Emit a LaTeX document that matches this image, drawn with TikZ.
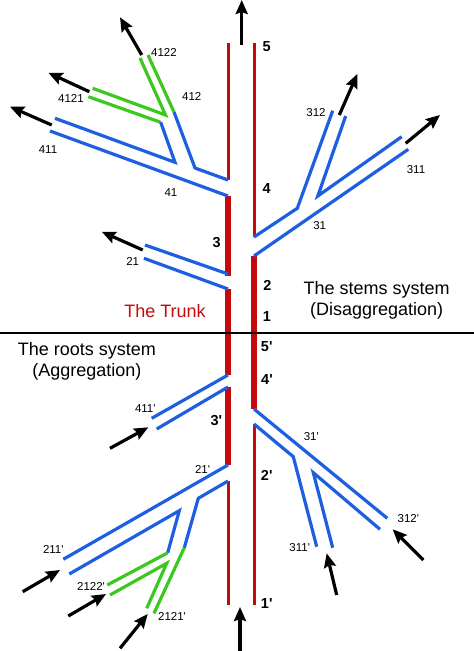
\documentclass[tikz,border=0pt]{standalone}
\usepackage{fontspec}
\setmainfont{Liberation Sans}
\usetikzlibrary{arrows.meta}
\definecolor{trunkred}{RGB}{196,10,10}
\definecolor{branchblue}{RGB}{30,95,225}
\definecolor{twiggreen}{RGB}{60,200,30}
\newcommand{\prm}{\textquotesingle}

\begin{document}
\begin{tikzpicture}[x=1pt,y=-1pt,
  stem/.style={trunkred,line width=3pt},
  stemthick/.style={trunkred,line width=6.5pt},
  branch/.style={branchblue,line width=3.2pt},
  twig/.style={twiggreen,line width=3.2pt},
  flow/.style={black,line width=3.2pt,-{Stealth[length=14pt,width=12pt,inset=2pt]}},
  lbl/.style={font=\fontsize{11.5}{12}\selectfont},
  num/.style={font=\fontsize{14.5}{15}\selectfont\bfseries},
  caption/.style={font=\fontsize{18}{21}\selectfont,align=center}]

  \useasboundingbox (0,0) rectangle (474,651);

  % the trunk
  \draw[stem] (228,43) -- (228,180);
  \draw[stemthick] (228,196) -- (228,276);
  \draw[stemthick] (228,289) -- (228,375);
  \draw[stemthick] (228,387) -- (228,465);
  \draw[stem] (228,481) -- (228,605);
  \draw[stem] (254,43) -- (254,237);
  \draw[stemthick] (254,256) -- (254,409);
  \draw[stem] (254,424) -- (254,605);

  % border between both systems
  \draw[black,line width=1.4pt] (0,333) -- (474,333);

  % stems: branch 41
  \draw[branch] (228,180) -- (195,168) -- (174,112);
  \draw[twig] (174,112) -- (148,55);
  \draw[twig] (140,58) -- (165.5,115) -- (92.7,88.3);
  \draw[twig] (88.3,96.7) -- (160.7,122.3);
  \draw[branch] (160.7,122.3) -- (175,162.3) -- (55,118.3);
  \draw[branch] (50,131) -- (228,196);

  % stems: branch 31
  \draw[branch] (254,237) -- (297.3,208.3) -- (332.7,110.7);
  \draw[branch] (345.7,116) -- (317.8,196) -- (401.7,136.7);
  \draw[branch] (408.3,149.3) -- (254,256);

  % stems: branch 21
  \draw[branch] (145,245) -- (228,274);
  \draw[branch] (144,258.3) -- (228,289);

  % roots: branch 411'
  \draw[branch] (228,375) -- (151.7,418.3);
  \draw[branch] (228,387) -- (156.7,429);

  % roots: branch 31'
  \draw[branch] (254,409) -- (387.3,518.3);
  \draw[branch] (254,424) -- (293.3,456.7) -- (316.7,546.7);
  \draw[branch] (380,529.3) -- (313.3,472.7) -- (332.7,547.7);

  % roots: branch 21'
  \draw[branch] (228,465) -- (63.3,559.3);
  \draw[branch] (228,481) -- (198.3,498.3) -- (184.3,547.7);
  \draw[twig] (184.3,547.7) -- (154,613.3);
  \draw[branch] (69.3,574) -- (179.3,510.7) -- (167.7,552.8);
  \draw[twig] (167.7,552.8) -- (107.3,585);
  \draw[twig] (110,595) -- (166.7,563.3) -- (146.7,608.3);

  % flows out of the stems
  \coordinate (t5) at (241.7,45);      \coordinate (h5) at (241.7,0);
  \coordinate (t411) at (51.7,125);    \coordinate (h411) at (10,106.7);
  \coordinate (t4121) at (89.3,91.7);  \coordinate (h4121) at (48.3,72.7);
  \coordinate (t4122) at (141.7,55);   \coordinate (h4122) at (120,17.3);
  \coordinate (t312) at (339.3,115);   \coordinate (h312) at (357.3,74);
  \coordinate (t311) at (405.7,143.3); \coordinate (h311) at (440,115);
  \coordinate (t21) at (142.7,250);    \coordinate (h21) at (101.7,231.7);
  \foreach \n in {5,411,4121,4122,312,311,21}
    \draw[flow] (t\n) -- (h\n);

  % flows into the roots
  \coordinate (t1r) at (240,651);       \coordinate (h1r) at (240,607);
  \coordinate (t411r) at (110,448.3);   \coordinate (h411r) at (148.3,427.3);
  \coordinate (t312r) at (423.3,560);   \coordinate (h312r) at (392.7,529.3);
  \coordinate (t311r) at (336.7,595);   \coordinate (h311r) at (326.7,553.3);
  \coordinate (t211r) at (22.7,591.7);  \coordinate (h211r) at (60,570);
  \coordinate (t2122r) at (68.3,616);   \coordinate (h2122r) at (106,594);
  \coordinate (t2121r) at (120,648.3);  \coordinate (h2121r) at (147.7,614);
  \foreach \n in {1r,411r,312r,311r,211r,2122r,2121r}
    \draw[flow] (t\n) -- (h\n);

  % trunk numbers
  \node[num] (n5) at (266.7,46.7) {5};
  \node[num] (n4) at (266.7,188.7) {4};
  \node[num] (n3) at (216.7,242.8) {3};
  \node[num] (n2) at (267.5,285) {2};
  \node[num] (n1) at (267,316.7) {1};
  \node[num] (n5r) at (266.7,346.7) {5\prm};
  \node[num] (n4r) at (267,380) {4\prm};
  \node[num] (n3r) at (216.3,420.5) {3\prm};
  \node[num] (n2r) at (266.7,475) {2\prm};
  \node[num] (n1r) at (266.7,603.3) {1\prm};

  % branch labels
  \node[lbl] (l4122) at (164,52.5) {4122};
  \node[lbl] (l4121) at (71,98) {4121};
  \node[lbl] (l412) at (191.7,96.7) {412};
  \node[lbl] (l411) at (48,150) {411};
  \node[lbl] (l41) at (171,193) {41};
  \node[lbl] (l312) at (316,112.8) {312};
  \node[lbl] (l311) at (416,169.5) {311};
  \node[lbl] (l31) at (319.7,225.7) {31};
  \node[lbl] (l21) at (132.7,261.3) {21};
  \node[lbl] (l411r) at (145.3,408.3) {411\prm};
  \node[lbl] (l31r) at (311.3,436.7) {31\prm};
  \node[lbl] (l312r) at (408.3,518.7) {312\prm};
  \node[lbl] (l311r) at (299.7,548) {311\prm};
  \node[lbl] (l21r) at (202.5,469.3) {21\prm};
  \node[lbl] (l211r) at (53.3,549.7) {211\prm};
  \node[lbl] (l2122r) at (91,586.7) {2122\prm};
  \node[lbl] (l2121r) at (172,616.7) {2121\prm};

  % systems
  \node[caption,text=trunkred] (trunk) at (165,311) {The Trunk};
  \node[caption] (stems) at (376.7,300.5) {The stems system\\(Disaggregation)};
  \node[caption] (roots) at (86.8,361.5) {The roots system\\(Aggregation)};
\end{tikzpicture}
\end{document}
